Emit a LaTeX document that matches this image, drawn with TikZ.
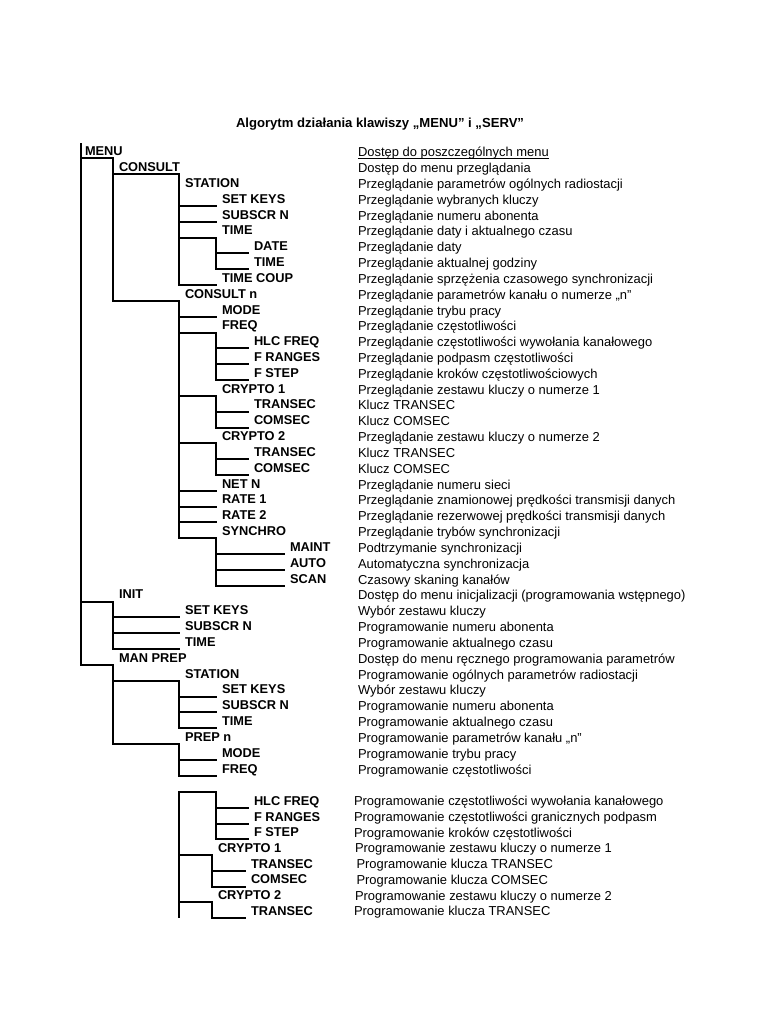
\documentclass[tikz,border=0pt]{standalone}
\usepackage{fontspec}
\setmainfont{Liberation Sans}
\begin{document}
\begin{tikzpicture}[x=1pt,y=-1pt,
  lab/.style={anchor=base west,inner sep=0pt,outer sep=0pt,font=\fontsize{12.8}{15}\selectfont\bfseries},
  ttl/.style={anchor=base west,inner sep=0pt,outer sep=0pt,font=\fontsize{13.1}{15}\selectfont\bfseries},
  dsc/.style={anchor=base west,inner sep=0pt,outer sep=0pt,font=\fontsize{12.95}{15}\selectfont},
  tree/.style={line width=2pt,line cap=rect}]
\useasboundingbox[fill=white] (0,0) rectangle (768,1024);
% helpers
\newcommand\lb[4]{\node[lab] (#1) at (#2,{151.2+15.83*(#3)+4.5}) {#4};
  \coordinate (#1-e) at ([xshift=-6pt,yshift=-2.7pt]#1.base west);}
\newcommand\lc[4]{\node[lab] (#1) at (#2,{800.8+15.71*(#3)+4.5}) {#4};
  \coordinate (#1-e) at ([xshift=-6pt,yshift=-2.7pt]#1.base west);}
\newcommand\ds[3]{\node[dsc] (#1) at (358,{151.2+15.83*(#2)+5.5}) {#3};}
\newcommand\dt[4]{\node[dsc] (#1) at (#2,{800.8+15.71*(#3)+5}) {#4};}
\newcommand\lk[2]{\draw[tree] (#1) |- (#2-e);}

\node[ttl] (title) at (236,128) {Algorytm działania klawiszy „MENU” i „SERV”};

% ---- labels, first block
\lb{n0}{85}{0}{MENU}
\lb{n1}{119}{1}{CONSULT}
\lb{n2}{185}{2}{STATION}
\lb{n3}{222}{3}{SET KEYS}
\lb{n4}{222}{4}{SUBSCR N}
\lb{n5}{222}{5}{TIME}
\lb{n6}{254}{6}{DATE}
\lb{n7}{254}{7}{TIME}
\lb{n8}{222}{8}{TIME COUP}
\lb{n9}{185}{9}{CONSULT n}
\lb{n10}{222}{10}{MODE}
\lb{n11}{222}{11}{FREQ}
\lb{n12}{254}{12}{HLC FREQ}
\lb{n13}{254}{13}{F RANGES}
\lb{n14}{254}{14}{F STEP}
\lb{n15}{222}{15}{CRYPTO 1}
\lb{n16}{254}{16}{TRANSEC}
\lb{n17}{254}{17}{COMSEC}
\lb{n18}{222}{18}{CRYPTO 2}
\lb{n19}{254}{19}{TRANSEC}
\lb{n20}{254}{20}{COMSEC}
\lb{n21}{222}{21}{NET N}
\lb{n22}{222}{22}{RATE 1}
\lb{n23}{222}{23}{RATE 2}
\lb{n24}{222}{24}{SYNCHRO}
\lb{n25}{290}{25}{MAINT}
\lb{n26}{290}{26}{AUTO}
\lb{n27}{290}{27}{SCAN}
\lb{n28}{119}{28}{INIT}
\lb{n29}{185}{29}{SET KEYS}
\lb{n30}{185}{30}{SUBSCR N}
\lb{n31}{185}{31}{TIME}
\lb{n32}{119}{32}{MAN PREP}
\lb{n33}{185}{33}{STATION}
\lb{n34}{222}{34}{SET KEYS}
\lb{n35}{222}{35}{SUBSCR N}
\lb{n36}{222}{36}{TIME}
\lb{n37}{185}{37}{PREP n}
\lb{n38}{222}{38}{MODE}
\lb{n39}{222}{39}{FREQ}

% ---- descriptions, first block
\ds{d0}{0}{Dostęp do poszczególnych menu}
\draw[line width=0.8pt] ([yshift=-1.8pt]d0.base west) -- ([yshift=-1.8pt]d0.base east);
\ds{d1}{1}{Dostęp do menu przeglądania}
\ds{d2}{2}{Przeglądanie parametrów ogólnych radiostacji}
\ds{d3}{3}{Przeglądanie wybranych kluczy}
\ds{d4}{4}{Przeglądanie numeru abonenta}
\ds{d5}{5}{Przeglądanie daty i aktualnego czasu}
\ds{d6}{6}{Przeglądanie daty}
\ds{d7}{7}{Przeglądanie aktualnej godziny}
\ds{d8}{8}{Przeglądanie sprzężenia czasowego synchronizacji}
\ds{d9}{9}{Przeglądanie parametrów kanału o numerze „n”}
\ds{d10}{10}{Przeglądanie trybu pracy}
\ds{d11}{11}{Przeglądanie częstotliwości}
\ds{d12}{12}{Przeglądanie częstotliwości wywołania kanałowego}
\ds{d13}{13}{Przeglądanie podpasm częstotliwości}
\ds{d14}{14}{Przeglądanie kroków częstotliwościowych}
\ds{d15}{15}{Przeglądanie zestawu kluczy o numerze 1}
\ds{d16}{16}{Klucz TRANSEC}
\ds{d17}{17}{Klucz COMSEC}
\ds{d18}{18}{Przeglądanie zestawu kluczy o numerze 2}
\ds{d19}{19}{Klucz TRANSEC}
\ds{d20}{20}{Klucz COMSEC}
\ds{d21}{21}{Przeglądanie numeru sieci}
\ds{d22}{22}{Przeglądanie znamionowej prędkości transmisji danych}
\ds{d23}{23}{Przeglądanie rezerwowej prędkości transmisji danych}
\ds{d24}{24}{Przeglądanie trybów synchronizacji}
\ds{d25}{25}{Podtrzymanie synchronizacji}
\ds{d26}{26}{Automatyczna synchronizacja}
\ds{d27}{27}{Czasowy skaning kanałów}
\ds{d28}{28}{Dostęp do menu inicjalizacji (programowania wstępnego)}
\ds{d29}{29}{Wybór zestawu kluczy}
\ds{d30}{30}{Programowanie numeru abonenta}
\ds{d31}{31}{Programowanie aktualnego czasu}
\ds{d32}{32}{Dostęp do menu ręcznego programowania parametrów}
\ds{d33}{33}{Programowanie ogólnych parametrów radiostacji}
\ds{d34}{34}{Wybór zestawu kluczy}
\ds{d35}{35}{Programowanie numeru abonenta}
\ds{d36}{36}{Programowanie aktualnego czasu}
\ds{d37}{37}{Programowanie parametrów kanału „n”}
\ds{d38}{38}{Programowanie trybu pracy}
\ds{d39}{39}{Programowanie częstotliwości}

% ---- second block
\lc{p0}{254}{0}{HLC FREQ}
\lc{p1}{254}{1}{F RANGES}
\lc{p2}{254}{2}{F STEP}
\lc{p3}{218}{3}{CRYPTO 1}
\lc{p4}{251}{4}{TRANSEC}
\lc{p5}{251}{5}{COMSEC}
\lc{p6}{218}{6}{CRYPTO 2}
\lc{p7}{251}{7}{TRANSEC}
\dt{e0}{354}{0}{Programowanie częstotliwości wywołania kanałowego}
\dt{e1}{354}{1}{Programowanie częstotliwości granicznych podpasm}
\dt{e2}{354}{2}{Programowanie kroków częstotliwości}
\dt{e3}{355}{3}{Programowanie zestawu kluczy o numerze 1}
\dt{e4}{356.5}{4}{Programowanie klucza TRANSEC}
\dt{e5}{356.5}{5}{Programowanie klucza COMSEC}
\dt{e6}{355}{6}{Programowanie zestawu kluczy o numerze 2}
\dt{e7}{354}{7}{Programowanie klucza TRANSEC}

% ---- tree connectors, first block
\coordinate (m0) at ([xshift=-4pt,yshift=11.7pt]n0.base west);
\coordinate (c0) at ([xshift=-6pt,yshift=13.1pt]n1.base west);
\coordinate (s0) at ([xshift=-6pt,yshift=13.1pt]n2.base west);
\draw[tree] (m0) |- (c0);
\lk{m0}{n28}
\lk{m0}{n32}
\draw[tree] (c0) |- (s0);
\lk{c0}{n9}
\lk{s0}{n3}
\lk{s0}{n4}
\lk{s0}{n5}
\lk{s0}{n8}
\lk{n5-e}{n6}
\lk{n5-e}{n7}
\lk{n9-e}{n10}
\lk{n9-e}{n11}
\lk{n9-e}{n15}
\lk{n9-e}{n18}
\lk{n9-e}{n21}
\lk{n9-e}{n22}
\lk{n9-e}{n23}
\lk{n9-e}{n24}
\lk{n11-e}{n12}
\lk{n11-e}{n13}
\lk{n11-e}{n14}
\lk{n15-e}{n16}
\lk{n15-e}{n17}
\lk{n18-e}{n19}
\lk{n18-e}{n20}
\lk{n24-e}{n25}
\lk{n24-e}{n26}
\lk{n24-e}{n27}
\lk{n28-e}{n29}
\lk{n28-e}{n30}
\lk{n28-e}{n31}
\lk{n32-e}{n33}
\lk{n32-e}{n37}
\lk{n33-e}{n34}
\lk{n33-e}{n35}
\lk{n33-e}{n36}
\lk{n37-e}{n38}
\lk{n37-e}{n39}

% ---- tree connectors, second block
\coordinate (q1) at ([xshift=-38pt,yshift=13.5pt]p0.base west);
\coordinate (q0) at ([xshift=-75pt,yshift=13.5pt]p0.base west);
\coordinate (qb) at ([xshift=-72pt,yshift=-1.7pt]p7.base west);
\draw[tree] (q1) -- (q0) -- (qb);
\lk{q0}{p3}
\lk{q0}{p6}
\lk{q1}{p0}
\lk{q1}{p1}
\lk{q1}{p2}
\lk{p3-e}{p4}
\lk{p3-e}{p5}
\lk{p6-e}{p7}
\end{tikzpicture}
\end{document}
